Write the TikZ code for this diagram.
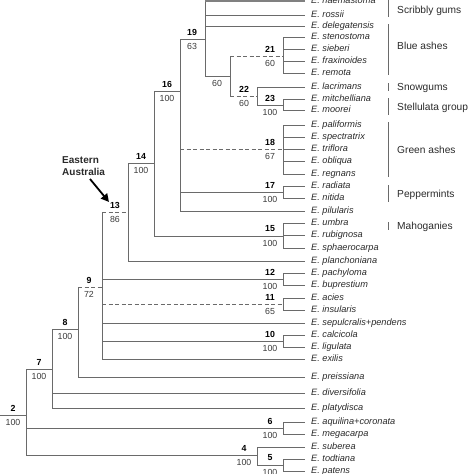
\documentclass[tikz,border=0pt]{standalone}
\usepackage{fontspec}
\setmainfont{Liberation Sans}
\usetikzlibrary{arrows.meta,calc}
\definecolor{lc}{HTML}{6A6A6A}
\definecolor{tc}{HTML}{2A2A2A}
\definecolor{sc}{HTML}{3A3A3A}
\newcommand\vbar[3]{\draw[br] (#1 |- #2) -- (#1 |- #3);}
\newcommand\hbr[3][br]{\draw[#1] (#2 |- #3) -- (#3);}
\newcommand\nlab[3]{%
  \node[numl] (#1a) at ($(#1)+(-13,-7)$) {#2};
  \node[supl] (#1b) at ($(#1)+(-13,7.5)$) {#3};}
\begin{document}
\begin{tikzpicture}[x=1pt,y=-1pt,
  br/.style={draw=lc, line width=0.9pt},
  dsh/.style={br, dash pattern=on 4pt off 2.5pt},
  leaf/.style={anchor=west, inner xsep=6pt, inner ysep=0pt, text height=6.6pt, text depth=2pt,
    font=\fontsize{9.2}{11}\selectfont\itshape, text=tc},
  numl/.style={inner sep=0pt, font=\fontsize{8.8}{10}\selectfont\bfseries, text=black},
  supl/.style={inner sep=0pt, font=\fontsize{8.8}{10}\selectfont, text=sc},
  grp/.style={anchor=west, inner sep=0pt, text height=7.3pt, text depth=0pt,
    font=\fontsize{10.2}{12}\selectfont, text=tc},
  arr/.style={line width=1.8pt, -{Triangle[length=8pt,width=8pt]}}]
\useasboundingbox (0,0) rectangle (474,474);
\clip (0,0) rectangle (474,474);

% leaves
\node[leaf] (haem) at (305,1) {E. haemastoma};
\node[leaf] (ross) at (305,15) {E. rossii};
\node[leaf] (dele) at (305,26) {E. delegatensis};
\node[leaf] (sten) at (305,37) {E. stenostoma};
\node[leaf] (sieb) at (305,49) {E. sieberi};
\node[leaf] (frax) at (305,61) {E. fraxinoides};
\node[leaf] (remo) at (305,73) {E. remota};
\node[leaf] (lacr) at (305,87) {E. lacrimans};
\node[leaf] (mitc) at (305,99) {E. mitchelliana};
\node[leaf] (moor) at (305,110) {E. moorei};
\node[leaf] (pali) at (305,125) {E. paliformis};
\node[leaf] (spec) at (305,137) {E. spectratrix};
\node[leaf] (trif) at (305,149) {E. triflora};
\node[leaf] (obli) at (305,161) {E. obliqua};
\node[leaf] (regn) at (305,174) {E. regnans};
\node[leaf] (radi) at (305,186) {E. radiata};
\node[leaf] (niti) at (305,198) {E. nitida};
\node[leaf] (pilu) at (305,211) {E. pilularis};
\node[leaf] (umbr) at (305,223) {E. umbra};
\node[leaf] (rubi) at (305,235) {E. rubignosa};
\node[leaf] (spha) at (305,248) {E. sphaerocarpa};
\node[leaf] (plan) at (305,261) {E. planchoniana};
\node[leaf] (pach) at (305,273) {E. pachyloma};
\node[leaf] (bupr) at (305,285) {E. buprestium};
\node[leaf] (acie) at (305,298) {E. acies};
\node[leaf] (insu) at (305,310) {E. insularis};
\node[leaf] (sepu) at (305,323) {E. sepulcralis+pendens};
\node[leaf] (calc) at (305,335) {E. calcicola};
\node[leaf] (ligu) at (305,347) {E. ligulata};
\node[leaf] (exil) at (305,359) {E. exilis};
\node[leaf] (prei) at (305,377) {E. preissiana};
\node[leaf] (dive) at (305,393) {E. diversifolia};
\node[leaf] (plat) at (305,408) {E. platydisca};
\node[leaf] (aqui) at (305,422) {E. aquilina+coronata};
\node[leaf] (mega) at (305,434) {E. megacarpa};
\node[leaf] (sube) at (305,447) {E. suberea};
\node[leaf] (todt) at (305,459) {E. todtiana};
\node[leaf] (pate) at (305,471) {E. patens};

% internal nodes
\coordinate (root) at (0,415);
\coordinate (n2) at (26,415);
\coordinate (n7) at (52,369);
\coordinate (n8) at (78,329);
\coordinate (n9) at (102,287);
\coordinate (n13) at (128,212);
\coordinate (n14) at (154,163);
\coordinate (n16) at (180,91);
\coordinate (n19) at (205,39);
\coordinate (nu) at (230,76);
\coordinate (n21) at (283,56);
\coordinate (n22) at (257,96);
\coordinate (n23) at (283,105);
\coordinate (n18) at (283,149);
\coordinate (n17) at (283,192);
\coordinate (n15) at (283,236);
\coordinate (n12) at (283,279);
\coordinate (n11) at (283,304);
\coordinate (n10) at (283,341);
\coordinate (n6) at (283,428);
\coordinate (n4) at (257,455);
\coordinate (n5) at (283,465);

% root
\draw[br] (root) -- (n2);
% n2
\vbar{n2}{n7}{n4}
\hbr{n2}{n7} \hbr{n2}{n6} \hbr{n2}{n4}
% n7
\vbar{n7}{n8}{plat}
\hbr{n7}{n8} \hbr{n7}{dive} \hbr{n7}{plat}
% n8
\vbar{n8}{n9}{prei}
\hbr[dsh]{n8}{n9} \hbr{n8}{prei}
% n9
\vbar{n9}{n13}{exil}
\hbr[dsh]{n9}{n13} \hbr{n9}{n12} \hbr[dsh]{n9}{n11} \hbr{n9}{sepu} \hbr{n9}{n10} \hbr{n9}{exil}
% n13
\vbar{n13}{n14}{plan}
\hbr{n13}{n14} \hbr{n13}{plan}
% n14
\vbar{n14}{n16}{n15}
\hbr{n14}{n16} \hbr{n14}{n15}
% n16
\vbar{n16}{n19}{pilu}
\hbr{n16}{n19} \hbr[dsh]{n16}{n18} \hbr{n16}{n17} \hbr{n16}{pilu}
% n19
\vbar{n19}{haem}{nu}
\draw[draw=lc!85, line width=2.2pt] (n19 |- haem) -- (haem);
\hbr{n19}{ross} \hbr{n19}{dele} \hbr{n19}{nu}
% nu
\vbar{nu}{n21}{n22}
\hbr[dsh]{nu}{n21} \hbr[dsh]{nu}{n22}
% n21
\vbar{n21}{sten}{remo}
\hbr{n21}{sten} \hbr{n21}{sieb} \hbr{n21}{frax} \hbr{n21}{remo}
% n22
\vbar{n22}{lacr}{n23}
\hbr{n22}{lacr} \hbr{n22}{n23}
% n23
\vbar{n23}{mitc}{moor}
\hbr{n23}{mitc} \hbr{n23}{moor}
% n18
\vbar{n18}{pali}{regn}
\hbr{n18}{pali} \hbr{n18}{spec} \hbr{n18}{trif} \hbr{n18}{obli} \hbr{n18}{regn}
% n17
\vbar{n17}{radi}{niti}
\hbr{n17}{radi} \hbr{n17}{niti}
% n15
\vbar{n15}{umbr}{spha}
\hbr{n15}{umbr} \hbr{n15}{rubi} \hbr{n15}{spha}
% n12
\vbar{n12}{pach}{bupr}
\hbr{n12}{pach} \hbr{n12}{bupr}
% n11
\vbar{n11}{acie}{insu}
\hbr{n11}{acie} \hbr{n11}{insu}
% n10
\vbar{n10}{calc}{ligu}
\hbr{n10}{calc} \hbr{n10}{ligu}
% n6
\vbar{n6}{aqui}{mega}
\hbr{n6}{aqui} \hbr{n6}{mega}
% n4
\vbar{n4}{sube}{n5}
\hbr{n4}{sube} \hbr{n4}{n5}
% n5
\vbar{n5}{todt}{pate}
\hbr{n5}{todt} \hbr{n5}{pate}

% node labels
\nlab{n2}{2}{100}
\nlab{n7}{7}{100}
\nlab{n8}{8}{100}
\nlab{n9}{9}{72}
\nlab{n13}{13}{86}
\nlab{n14}{14}{100}
\nlab{n16}{16}{100}
\nlab{n19}{19}{63}
\node[supl] (nub) at ($(nu)+(-13,7.5)$) {60};
\nlab{n21}{21}{60}
\nlab{n22}{22}{60}
\nlab{n23}{23}{100}
\nlab{n18}{18}{67}
\nlab{n17}{17}{100}
\nlab{n15}{15}{100}
\nlab{n12}{12}{100}
\nlab{n11}{11}{65}
\nlab{n10}{10}{100}
\nlab{n6}{6}{100}
\nlab{n4}{4}{100}
\nlab{n5}{5}{100}

% group bars and labels
\coordinate (g1t) at (388,0);   \coordinate (g1b) at (388,17);
\coordinate (g2t) at (388,24);  \coordinate (g2b) at (388,75);
\coordinate (g3t) at (388,83);  \coordinate (g3b) at (388,91);
\coordinate (g4t) at (388,98);  \coordinate (g4b) at (388,115);
\coordinate (g5t) at (388,122); \coordinate (g5b) at (388,177);
\coordinate (g6t) at (388,185); \coordinate (g6b) at (388,202);
\coordinate (g7t) at (388,222); \coordinate (g7b) at (388,230);
\draw[br] (g1t) -- (g1b);
\draw[br] (g2t) -- (g2b);
\draw[br] (g3t) -- (g3b);
\draw[br] (g4t) -- (g4b);
\draw[br] (g5t) -- (g5b);
\draw[br] (g6t) -- (g6b);
\draw[br] (g7t) -- (g7b);
\node[grp] (gl1) at (397,10) {Scribbly gums};
\node[grp] (gl2) at (397,46) {Blue ashes};
\node[grp] (gl3) at (397,87) {Snowgums};
\node[grp] (gl4) at (397,107) {Stellulata group};
\node[grp] (gl5) at (397,150) {Green ashes};
\node[grp] (gl6) at (397,194) {Peppermints};
\node[grp] (gl7) at (397,226) {Mahoganies};

% Eastern Australia
\node[anchor=north west, inner sep=0pt, align=left, text=tc,
  font=\fontsize{10}{12}\selectfont\bfseries] (ea) at (62,156) {Eastern\\Australia};
\coordinate (arrs) at (90,179);
\coordinate (arre) at (109,202);
\draw[arr] (arrs) -- (arre);
\end{tikzpicture}
\end{document}
